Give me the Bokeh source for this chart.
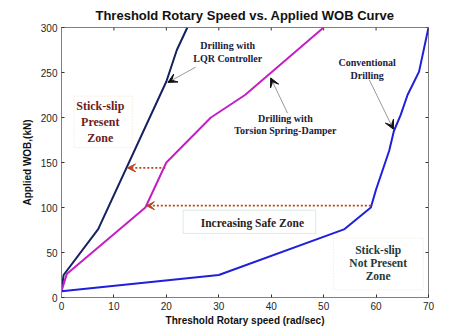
import math
from bokeh.plotting import figure
from bokeh.models import Range1d, FixedTicker, Label, Arrow, VeeHead, BoxAnnotation
from bokeh.embed import file_html
from bokeh.resources import INLINE

# ---- data ----
lqr_x = [0, 0.4, 7, 20, 22, 24]
lqr_y = [7, 25, 76, 240, 275, 300]

tsd_x = [0, 1, 16, 20, 28.5, 35, 50]
tsd_y = [7, 26, 100, 150, 200, 225, 300]

conv_x = [0, 30, 54, 59, 60, 62.5, 63.4, 64.7, 66, 68.2, 70]
conv_y = [7, 25, 76, 100, 120, 163, 185, 203, 225, 251, 300]

x_ticks = [0, 10, 20, 30, 40, 50, 60, 70]
y_ticks = [0, 50, 100, 150, 200, 250, 300]

title_text = "Threshold Rotary Speed vs. Applied WOB Curve"
x_label = "Threshold Rotary speed (rad/sec)"
y_label = "Applied WOB,(kN)"

SANS = "Liberation Sans"
SERIF = "Liberation Serif"
AXC = "#808080"

X0, X1 = x_ticks[0], x_ticks[-1]
Y0, Y1 = y_ticks[0], y_ticks[-1]

p = figure(width=474, height=335, output_backend="svg", toolbar_location=None,
           x_range=Range1d(X0, X1), y_range=Range1d(Y0, Y1),
           min_border_left=61, min_border_right=46, min_border_top=26, min_border_bottom=38)
p.title.text = title_text
p.title.align = "center"
p.title.text_font = SANS
p.title.text_font_size = "13px"
p.title.text_font_style = "bold"
p.title.text_color = "#111111"
p.title.standoff = 10
p.grid.visible = False
p.outline_line_color = AXC
p.background_fill_color = "white"
p.border_fill_color = "white"

xa = p.xaxis[0]
ya = p.yaxis[0]
for ax, ticks in ((xa, x_ticks), (ya, y_ticks)):
    ax.ticker = FixedTicker(ticks=ticks)
    ax.major_tick_in = 3
    ax.major_tick_out = 0
    ax.minor_tick_line_color = None
    ax.axis_line_color = AXC
    ax.major_tick_line_color = "#333333"
    ax.major_label_text_font = SANS
    ax.major_label_text_font_size = "10px"
    ax.major_label_text_color = "#262626"
    ax.axis_label_text_font = SANS
    ax.axis_label_text_font_size = "10px"
    ax.axis_label_text_font_style = "bold"
    ax.axis_label_text_color = "#111111"
    ax.major_label_standoff = 4
xa.axis_label = x_label
ya.axis_label = y_label
xa.axis_label_standoff = 2
ya.axis_label_standoff = 5

# inward tick marks on the top and right edges of the box (MATLAB style)
p.ray(x=x_ticks, y=[Y1] * len(x_ticks), length=3, length_units="screen",
      angle=-math.pi / 2, line_color="#333333", line_width=1)
p.ray(x=[X1] * len(y_ticks), y=y_ticks, length=3, length_units="screen",
      angle=math.pi, line_color="#333333", line_width=1)

# ---- curves ----
p.line(lqr_x, lqr_y, line_color="#172060", line_width=2)
p.line(tsd_x, tsd_y, line_color="#c41fc4", line_width=2)
p.line(conv_x, conv_y, line_color="#1f1fdc", line_width=2)

# ---- zone boxes ----
p.add_layout(BoxAnnotation(left=2.4, right=13.5, bottom=166.4, top=223.7, fill_alpha=0,
                           line_color="#ecc49c", line_width=1, line_dash="2 1"))
p.add_layout(BoxAnnotation(left=23.2, right=48.5, bottom=71.2, top=97, fill_alpha=0,
                           line_color="#8fbda1", line_width=1))
p.add_layout(BoxAnnotation(left=51.9, right=69.0, bottom=8.5, top=66, fill_alpha=0,
                           line_color="#efc8a2", line_width=1, line_dash="2 1"))

def lab(x, y, text, size, color, lh):
    p.add_layout(Label(x=x, y=y, text=text, text_align="center", text_baseline="middle",
                       text_font=SERIF, text_font_style="bold", text_font_size=size,
                       text_color=color, text_line_height=lh))

lab(7.4, 195, "Stick-slip\nPresent\nZone", "12px", "#6e1c1c", 1.12)
lab(36.4, 83, "Increasing Safe Zone", "11.5px", "#2b1d1d", 1.1)
lab(60.4, 38.4, "Stick-slip\nNot Present\nZone", "11.5px", "#1e3b3b", 1.1)
lab(31.7, 272.5, "Drilling with\nLQR Controller", "10px", "#1c1c3c", 1.15)
lab(42.7, 192.3, "Drilling with\nTorsion Spring-Damper", "10px", "#1c1c3c", 1.12)
lab(58.3, 254, "Conventional\nDrilling", "10px", "#1c1c3c", 1.15)

# ---- pointer arrows ----
def pointer(xs, ys, xe, ye):
    p.add_layout(Arrow(end=VeeHead(size=9, fill_color="#111111", line_color="#111111", line_width=1),
                       x_start=xs, y_start=ys, x_end=xe, y_end=ye,
                       line_color="#9a9a9a", line_width=1))

pointer(25.6, 256, 20.3, 239)
pointer(43.1, 205, 39.9, 244)
pointer(58.7, 242, 63.3, 187)

# ---- dotted shift arrows ----
def shift(xs, xe, y):
    p.add_layout(Arrow(end=VeeHead(size=8, fill_color="#b5451c", line_color="#b5451c", line_width=1),
                       x_start=xs, y_start=y, x_end=xe, y_end=y,
                       line_color="#b5451c", line_width=1.8, line_dash="2 2"))

shift(19.8, 12.6, 144)
shift(59, 16.2, 102)

open("out.html", "w").write(file_html(p, INLINE))
